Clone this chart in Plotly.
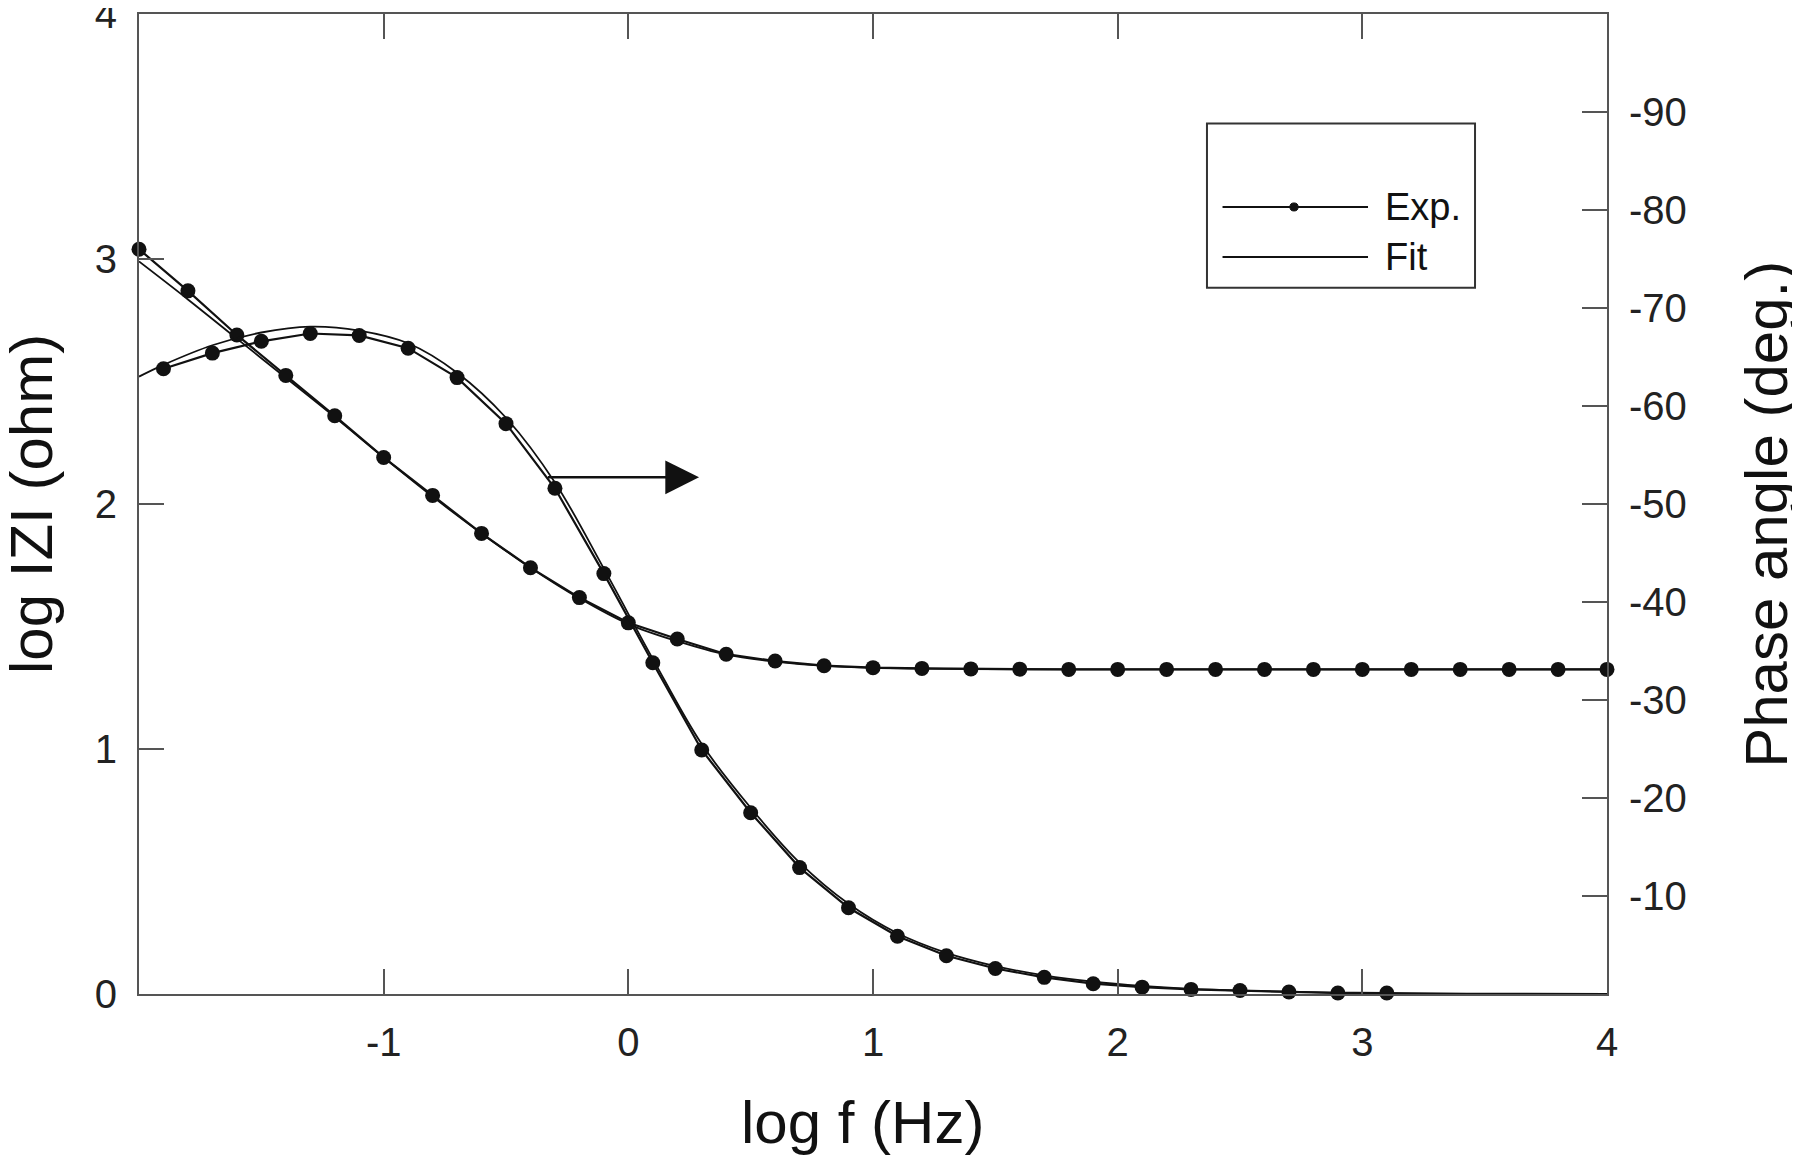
"""Bode plot: log|Z| and phase angle vs log f, experiment and fit."""

import plotly.graph_objects as go

# log f grid for |Z| (experiment and fit)
logf_z = [-2.0, -1.8, -1.6, -1.4, -1.2, -1.0, -0.8, -0.6, -0.4, -0.2, 0.0,
          0.2, 0.4, 0.6, 0.8, 1.0, 1.2, 1.4, 1.6, 1.8, 2.0,
          2.2, 2.4, 2.6, 2.8, 3.0, 3.2, 3.4, 3.6, 3.8, 4.0]
logz_exp = [3.04, 2.87, 2.69, 2.525, 2.36, 2.19, 2.035, 1.88, 1.74, 1.618, 1.515,
            1.449, 1.387, 1.359, 1.340, 1.332, 1.329, 1.327, 1.326, 1.325, 1.325,
            1.325, 1.325, 1.325, 1.325, 1.325, 1.325, 1.325, 1.325, 1.325, 1.325]
logz_fit = [2.99, 2.835, 2.675, 2.515, 2.355, 2.19, 2.03, 1.88, 1.74, 1.615, 1.51,
            1.44, 1.385, 1.357, 1.339, 1.331, 1.328, 1.326, 1.325, 1.325, 1.325,
            1.325, 1.325, 1.325, 1.325, 1.325, 1.325, 1.325, 1.325, 1.325, 1.325]

# phase angle, experiment
logf_ph = [-1.9, -1.7, -1.5, -1.3, -1.1, -0.9, -0.7, -0.5, -0.3, -0.1,
           0.1, 0.3, 0.5, 0.7, 0.9, 1.1, 1.3, 1.5, 1.7, 1.9,
           2.1, 2.3, 2.5, 2.7, 2.9, 3.1]
phase_exp = [-63.8, -65.4, -66.6, -67.4, -67.2, -65.9, -62.9, -58.2, -51.6, -42.9,
             -33.8, -24.9, -18.5, -12.9, -8.8, -5.9, -3.9, -2.6, -1.7, -1.05,
             -0.7, -0.47, -0.35, -0.2, -0.1, -0.1]

# phase angle, fit
logf_ph_fit = [-2.0, -1.9, -1.7, -1.5, -1.3, -1.1, -0.9, -0.7, -0.5, -0.3, -0.1,
               0.1, 0.3, 0.5, 0.7, 0.9, 1.1, 1.3, 1.5, 1.7, 1.9,
               2.1, 2.3, 2.5, 2.7, 2.9, 3.1, 3.5, 4.0]
phase_fit = [-63.0, -64.2, -66.2, -67.5, -68.1, -67.7, -66.4, -63.4, -58.8, -52.2, -43.4,
             -34.2, -25.5, -19.0, -13.4, -9.2, -6.2, -4.2, -2.85, -1.9, -1.25,
             -0.82, -0.53, -0.35, -0.23, -0.15, -0.1, -0.04, -0.015]

# tick labels
x_ticks = [-1, 0, 1, 2, 3, 4]
x_ticktext = ["-1", "0", "1", "2", "3", "4"]
z_ticks = [0, 1, 2, 3, 4]
phase_ticks = [-10, -20, -30, -40, -50, -60, -70, -80, -90]
phase_ticktext = ["-10", "-20", "-30", "-40", "-50", "-60", "-70", "-80", "-90"]

FONT = "Liberation Sans"
AXIS = "#555555"
INK = "#111111"

fig = go.Figure()

fig.add_trace(go.Scatter(
    x=logf_z, y=logz_fit, mode="lines", line=dict(color=INK, width=1.8, shape="spline"),
    name="Fit", showlegend=False,
))
fig.add_trace(go.Scatter(
    x=logf_z, y=logz_exp, mode="lines+markers", line=dict(color=INK, width=2.2),
    marker=dict(color=INK, size=15), cliponaxis=False, name="Exp.", showlegend=False,
))
fig.add_trace(go.Scatter(
    x=logf_ph_fit, y=phase_fit, yaxis="y2", mode="lines",
    line=dict(color=INK, width=1.8, shape="spline"), name="Fit", showlegend=False,
))
fig.add_trace(go.Scatter(
    x=logf_ph, y=phase_exp, yaxis="y2", mode="lines+markers", line=dict(color=INK, width=2.2),
    marker=dict(color=INK, size=15), cliponaxis=False, name="Exp.", showlegend=False,
))

# arrow pointing to the phase axis
fig.add_annotation(
    x=0.289, y=2.109, ax=-0.335, ay=2.109, xref="x", yref="y", axref="x", ayref="y",
    text="", showarrow=True, arrowhead=2, arrowsize=2.7, arrowwidth=2.5, arrowcolor=INK,
)

# hand-made legend box
lx0, lx1 = 0.7381, 0.8372
fig.add_shape(type="rect", xref="paper", yref="paper", x0=0.7275, x1=0.9101, y0=0.7206, y1=0.8882,
              line=dict(color="#333333", width=2), fillcolor="white")
fig.add_shape(type="line", xref="paper", yref="paper", x0=lx0, x1=lx1, y0=0.8031, y1=0.8031,
              line=dict(color=INK, width=2))
fig.add_shape(type="line", xref="paper", yref="paper", x0=lx0, x1=lx1, y0=0.752, y1=0.752,
              line=dict(color=INK, width=2))
fig.add_shape(type="circle", xref="paper", yref="paper", x0=0.7868 - 0.0028, x1=0.7868 + 0.0028,
              y0=0.8031 - 0.0041, y1=0.8031 + 0.0041, line=dict(color=INK, width=1), fillcolor=INK)
for label, ypos in [("Exp.", 0.8031), ("Fit", 0.752)]:
    fig.add_annotation(x=0.8474, y=ypos, xref="paper", yref="paper", text=label, showarrow=False,
                       xanchor="left", yanchor="middle", font=dict(family=FONT, size=38, color=INK))

tick_font = dict(family=FONT, size=40, color="#222222")
title_font = dict(family=FONT, size=60, color=INK)

# axis titles placed as annotations so they can sit right at the page edges
for text, xpos, ypos, angle in [
    ("log f (Hz)", 0.493, -0.131, 0),
    ("log IZI (ohm)", -0.0736, 0.5, -90),
    ("Phase angle (deg.)", 1.109, 0.489, -90),
]:
    fig.add_annotation(x=xpos, y=ypos, xref="paper", yref="paper", text=text, showarrow=False,
                       textangle=angle, xanchor="center", yanchor="middle", font=title_font)

axis_style = dict(
    ticks="inside", ticklen=25, tickwidth=2, tickcolor=AXIS,
    showline=True, linecolor=AXIS, linewidth=2,
    showgrid=False, zeroline=False, tickfont=tick_font,
    ticklabelstandoff=12, ticklabeloverflow="allow", automargin=False,
)

# the page body adds an 8 px offset, so the margins are shifted to compensate
fig.update_layout(
    template="none",
    width=1800, height=1155,
    margin=dict(l=131, r=201, t=6, b=169),
    paper_bgcolor="white", plot_bgcolor="white",
    showlegend=False,
    xaxis=dict(range=[-2, 4], tickvals=x_ticks, ticktext=x_ticktext, mirror="ticks", **axis_style),
    yaxis=dict(range=[0, 4], tickvals=z_ticks, **axis_style),
    yaxis2=dict(
        range=[0, -100], overlaying="y", side="right",
        tickvals=phase_ticks, ticktext=phase_ticktext, **axis_style,
    ),
)

fig.write_html("out.html")
